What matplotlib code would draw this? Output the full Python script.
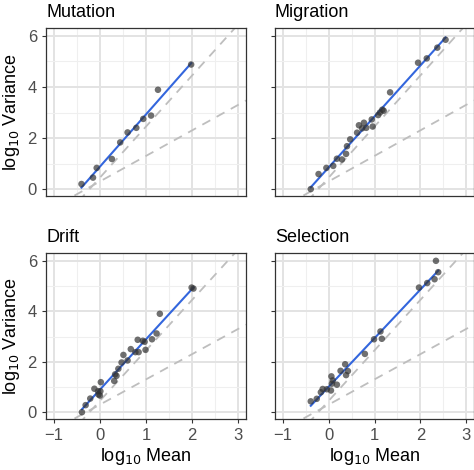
import matplotlib
matplotlib.use('Agg')
import matplotlib.pyplot as plt
import numpy as np

plt.rcParams['font.family'] = ['Liberation Sans', 'DejaVu Sans']

titles = ['Mutation', 'Migration', 'Drift', 'Selection']

mut_x = [-0.4, -0.15, -0.07, 0.26, 0.44, 0.6, 0.79, 0.94, 1.11, 1.26, 1.98]
mut_y = [0.2, 0.45, 0.83, 1.18, 1.83, 2.22, 2.4, 2.75, 2.88, 3.89, 4.88]

mig_x = [-0.39, -0.22, -0.05, 0.1, 0.18, 0.29, 0.38, 0.4, 0.47, 0.62, 0.66, 0.77, 0.73,
         0.82, 0.96, 0.94, 1.08, 1.12, 1.17, 1.2, 1.34, 1.95, 2.14, 2.37, 2.55]
mig_y = [0.0, 0.59, 0.83, 0.91, 1.19, 1.16, 1.38, 1.68, 1.95, 2.21, 2.5, 2.6, 2.38,
         2.4, 2.45, 2.73, 2.9, 3.0, 3.11, 3.07, 3.79, 4.95, 5.12, 5.54, 5.85]

dri_x = [-0.39, -0.31, -0.21, -0.12, -0.04, 0.02, 0.0, 0.01, -0.03, 0.31, 0.36, 0.33, 0.4, 0.47,
         0.51, 0.6, 0.67, 0.77, 0.82, 0.84, 0.93, 0.97, 0.99, 1.13, 1.23, 1.3, 1.99, 2.03]
dri_y = [0.0, 0.28, 0.54, 0.93, 0.83, 1.19, 0.66, 0.83, 0.7, 1.24, 1.44, 1.5, 1.72, 1.97,
         2.27, 2.05, 2.5, 2.38, 2.87, 2.38, 2.83, 2.79, 2.47, 2.89, 3.12, 3.9, 4.94, 4.9]

sel_x = [-0.39, -0.26, -0.17, -0.13, -0.04, 0.05, 0.06, 0.09, 0.07, 0.18, 0.26, 0.36, 0.38, 0.42,
         0.79, 0.99, 1.13, 1.16, 1.97, 2.15, 2.31, 2.34, 2.39]
sel_y = [0.43, 0.53, 0.79, 0.92, 0.91, 0.86, 1.42, 1.26, 1.13, 1.09, 1.64, 1.9, 1.47, 1.63,
         2.31, 2.89, 3.2, 2.91, 4.94, 5.12, 5.27, 6.0, 5.55]

data = [(mut_x, mut_y), (mig_x, mig_y), (dri_x, dri_y), (sel_x, sel_y)]

W, H = 474, 470
fig = plt.figure(figsize=(W / 100, H / 100), dpi=100)
boxes = [(46, 28, 246, 196), (275, 28, 474, 196), (46, 253, 246, 419), (275, 253, 474, 419)]

xl = np.array([-1.17, 3.17])
for i, (b, (xs, ys)) in enumerate(zip(boxes, data)):
    ax = fig.add_axes([b[0] / W, 1 - b[3] / H, (b[2] - b[0]) / W, (b[3] - b[1]) / H])
    ax.set_xlim(*xl)
    ax.set_ylim(-0.27, 6.31)
    ax.set_xticks([-1, 0, 1, 2, 3])
    ax.set_yticks([0, 2, 4, 6])
    ax.set_xticks([-0.5, 0.5, 1.5, 2.5], minor=True)
    ax.set_yticks([1, 3, 5], minor=True)
    ax.grid(True, which='major', color='#e3e3e3', linewidth=1.4)
    ax.grid(True, which='minor', color='#efefef', linewidth=0.8)
    ax.set_axisbelow(True)
    for s in ax.spines.values():
        s.set_color('#333333')
        s.set_linewidth(0.9)
    ax.tick_params(which='major', length=3, color='#333333', labelcolor='#4d4d4d', labelsize=12)
    ax.tick_params(which='minor', length=0)
    # reference lines
    ax.plot(xl, xl + 0.3, color='#bebebe', linestyle=(0, (5, 4)), linewidth=1.3)
    ax.plot(xl, 2 * xl + 0.45, color='#bebebe', linestyle=(0, (5, 4)), linewidth=1.3)
    # fit
    xs = np.array(xs); ys = np.array(ys)
    k, c = np.polyfit(xs, ys, 1)
    fx = np.array([xs.min(), xs.max()])
    ax.plot(fx, k * fx + c, color='#3366dd', linewidth=1.5)
    ax.scatter(xs, ys, s=22, color='#333333', alpha=0.7, edgecolors='none', zorder=3)
    ax.set_title(titles[i], loc='left', fontsize=13, pad=8)
    if i % 2 == 1:
        ax.set_yticklabels([])
    else:
        ax.set_ylabel('log$_{10}$ Variance', fontsize=13)
    if i < 2:
        ax.set_xticklabels([])
        ax.tick_params(axis='x', length=0)
    else:
        ax.set_xlabel('log$_{10}$ Mean', fontsize=13, labelpad=2)

fig.savefig('out.png', dpi=100)
